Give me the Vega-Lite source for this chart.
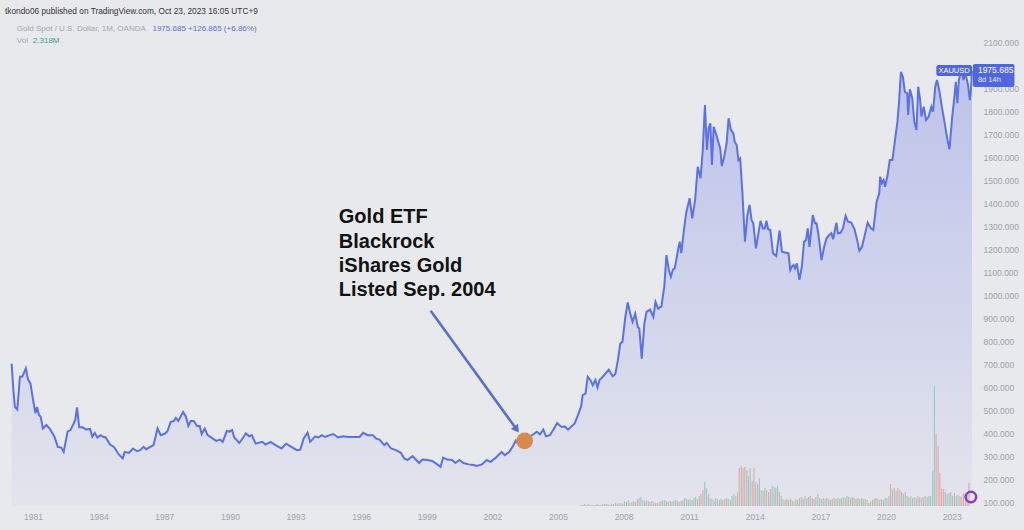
{
  "$schema": "https://vega.github.io/schema/vega-lite/v6.json",
  "width": 972,
  "height": 486,
  "autosize": {"type": "none"},
  "padding": {"left": 5, "top": 20, "right": 47, "bottom": 24},
  "background": "#e8e9ec",
  "config": {"view": {"stroke": null}, "font": "Liberation Sans"},
  "title": {
    "text": "tkondo06 published on TradingView.com, Oct 23, 2023 16:05 UTC+9",
    "anchor": "start",
    "fontSize": 8.3,
    "fontWeight": "normal",
    "color": "#333333",
    "font": "Liberation Sans",
    "offset": 5
  },
  "datasets": {
    "gold": [
      {"year":1980.02,"price":703},{"year":1980.10,"price":588},{"year":1980.17,"price":515},{"year":1980.28,"price":503},{"year":1980.40,"price":646},{"year":1980.50,"price":646},{"year":1980.58,"price":661},{"year":1980.67,"price":683},{"year":1980.77,"price":635},{"year":1980.88,"price":617},
      {"year":1981.00,"price":545},{"year":1981.11,"price":487},{"year":1981.18,"price":515},{"year":1981.27,"price":480},{"year":1981.35,"price":472},{"year":1981.45,"price":421},{"year":1981.61,"price":436},{"year":1981.76,"price":421},{"year":1981.98,"price":385},
      {"year":1982.13,"price":341},{"year":1982.29,"price":338},{"year":1982.40,"price":319},{"year":1982.58,"price":407},{"year":1982.71,"price":414},{"year":1982.86,"price":443},{"year":1982.93,"price":458},
      {"year":1983.01,"price":513},{"year":1983.11,"price":426},{"year":1983.26,"price":426},{"year":1983.42,"price":417},{"year":1983.61,"price":419},{"year":1983.71,"price":385},{"year":1983.82,"price":402},{"year":1983.94,"price":382},
      {"year":1984.09,"price":392},{"year":1984.21,"price":385},{"year":1984.32,"price":382},{"year":1984.52,"price":351},{"year":1984.70,"price":341},{"year":1984.92,"price":308},
      {"year":1985.10,"price":291},{"year":1985.19,"price":319},{"year":1985.38,"price":315},{"year":1985.57,"price":334},{"year":1985.75,"price":322},{"year":1985.90,"price":327},
      {"year":1986.05,"price":341},{"year":1986.18,"price":331},{"year":1986.36,"price":341},{"year":1986.51,"price":349},{"year":1986.69,"price":421},{"year":1986.84,"price":392},
      {"year":1987.04,"price":399},{"year":1987.15,"price":410},{"year":1987.29,"price":449},{"year":1987.44,"price":454},{"year":1987.53,"price":467},{"year":1987.64,"price":454},{"year":1987.86,"price":493},{"year":1987.99,"price":472},
      {"year":1988.10,"price":432},{"year":1988.21,"price":454},{"year":1988.35,"price":454},{"year":1988.50,"price":432},{"year":1988.62,"price":432},{"year":1988.71,"price":397},{"year":1988.85,"price":421},{"year":1988.98,"price":392},
      {"year":1989.14,"price":382},{"year":1989.37,"price":367},{"year":1989.55,"price":373},{"year":1989.67,"price":363},{"year":1989.86,"price":410},{"year":1989.98,"price":407},
      {"year":1990.10,"price":414},{"year":1990.20,"price":382},{"year":1990.43,"price":358},{"year":1990.61,"price":382},{"year":1990.73,"price":400},{"year":1990.88,"price":387},
      {"year":1991.00,"price":392},{"year":1991.18,"price":355},{"year":1991.48,"price":363},{"year":1991.63,"price":351},{"year":1991.86,"price":363},
      {"year":1992.09,"price":349},{"year":1992.36,"price":334},{"year":1992.57,"price":355},{"year":1992.81,"price":341},
      {"year":1993.07,"price":327},{"year":1993.22,"price":329},{"year":1993.37,"price":377},{"year":1993.55,"price":403},{"year":1993.67,"price":363},{"year":1993.90,"price":387},
      {"year":1994.05,"price":382},{"year":1994.20,"price":392},{"year":1994.35,"price":384},{"year":1994.57,"price":392},{"year":1994.73,"price":397},{"year":1994.95,"price":382},
      {"year":1995.18,"price":387},{"year":1995.41,"price":384},{"year":1995.71,"price":384},{"year":1995.93,"price":384},
      {"year":1996.09,"price":402},{"year":1996.31,"price":392},{"year":1996.54,"price":392},{"year":1996.69,"price":377},{"year":1996.84,"price":373},
      {"year":1997.06,"price":349},{"year":1997.17,"price":358},{"year":1997.37,"price":334},{"year":1997.59,"price":327},{"year":1997.82,"price":315},{"year":1997.97,"price":291},
      {"year":1998.12,"price":284},{"year":1998.35,"price":301},{"year":1998.50,"price":286},{"year":1998.65,"price":271},{"year":1998.80,"price":286},
      {"year":1999.03,"price":284},{"year":1999.25,"price":280},{"year":1999.48,"price":265},{"year":1999.63,"price":254},{"year":1999.75,"price":294},{"year":1999.93,"price":286},
      {"year":2000.16,"price":284},{"year":2000.31,"price":271},{"year":2000.50,"price":284},{"year":2000.68,"price":271},{"year":2000.91,"price":265},
      {"year":2001.14,"price":262},{"year":2001.29,"price":258},{"year":2001.52,"price":265},{"year":2001.74,"price":284},{"year":2001.92,"price":276},
      {"year":2002.12,"price":291},{"year":2002.42,"price":319},{"year":2002.57,"price":305},{"year":2002.77,"price":319},{"year":2002.92,"price":341},
      {"year":2003.07,"price":368},{"year":2003.20,"price":352},{"year":2003.35,"price":350},{"year":2003.50,"price":368},{"year":2003.70,"price":385},{"year":2003.88,"price":396},
      {"year":2004.03,"price":407},{"year":2004.18,"price":396},{"year":2004.33,"price":416},{"year":2004.45,"price":387},{"year":2004.63,"price":392},{"year":2004.78,"price":414},{"year":2004.96,"price":445},
      {"year":2005.16,"price":428},{"year":2005.31,"price":430},{"year":2005.46,"price":416},{"year":2005.61,"price":430},{"year":2005.76,"price":442},{"year":2005.91,"price":478},
      {"year":2006.06,"price":518},{"year":2006.13,"price":566},{"year":2006.26,"price":573},{"year":2006.36,"price":646},{"year":2006.48,"price":632},{"year":2006.59,"price":609},{"year":2006.71,"price":632},{"year":2006.81,"price":599},{"year":2006.90,"price":632},
      {"year":2007.05,"price":646},{"year":2007.17,"price":660},{"year":2007.32,"price":677},{"year":2007.50,"price":648},{"year":2007.62,"price":657},{"year":2007.74,"price":718},{"year":2007.85,"price":790},{"year":2007.95,"price":798},
      {"year":2008.08,"price":906},{"year":2008.19,"price":969},{"year":2008.32,"price":914},{"year":2008.41,"price":885},{"year":2008.53,"price":920},{"year":2008.65,"price":862},{"year":2008.72,"price":855},{"year":2008.83,"price":725},{"year":2008.95,"price":877},
      {"year":2009.05,"price":928},{"year":2009.21,"price":938},{"year":2009.36,"price":906},{"year":2009.46,"price":971},{"year":2009.58,"price":942},{"year":2009.73,"price":952},{"year":2009.86,"price":1037},{"year":2009.96,"price":1175},
      {"year":2010.07,"price":1110},{"year":2010.16,"price":1081},{"year":2010.26,"price":1113},{"year":2010.34,"price":1117},{"year":2010.49,"price":1197},{"year":2010.57,"price":1233},{"year":2010.64,"price":1183},{"year":2010.76,"price":1284},{"year":2010.86,"price":1357},
      {"year":2011.02,"price":1422},{"year":2011.14,"price":1335},{"year":2011.27,"price":1414},{"year":2011.39,"price":1559},{"year":2011.52,"price":1509},{"year":2011.62,"price":1632},{"year":2011.72,"price":1827},{"year":2011.81,"price":1632},{"year":2011.89,"price":1726},{"year":2011.97,"price":1748},
      {"year":2012.04,"price":1567},{"year":2012.12,"price":1733},{"year":2012.22,"price":1704},{"year":2012.33,"price":1668},{"year":2012.42,"price":1639},{"year":2012.49,"price":1562},{"year":2012.60,"price":1603},{"year":2012.71,"price":1661},{"year":2012.80,"price":1770},{"year":2012.90,"price":1722},
      {"year":2013.02,"price":1704},{"year":2013.08,"price":1668},{"year":2013.17,"price":1654},{"year":2013.25,"price":1588},{"year":2013.33,"price":1596},{"year":2013.43,"price":1450},{"year":2013.55,"price":1233},{"year":2013.66,"price":1349},{"year":2013.76,"price":1393},{"year":2013.85,"price":1328},{"year":2013.93,"price":1313},
      {"year":2014.05,"price":1204},{"year":2014.14,"price":1255},{"year":2014.26,"price":1324},{"year":2014.37,"price":1291},{"year":2014.46,"price":1291},{"year":2014.53,"price":1324},{"year":2014.61,"price":1287},{"year":2014.71,"price":1284},{"year":2014.83,"price":1183},{"year":2014.98,"price":1171},
      {"year":2015.13,"price":1281},{"year":2015.24,"price":1190},{"year":2015.39,"price":1186},{"year":2015.54,"price":1183},{"year":2015.62,"price":1110},{"year":2015.69,"price":1124},{"year":2015.77,"price":1132},{"year":2015.84,"price":1117},{"year":2015.92,"price":1139},
      {"year":2016.04,"price":1067},{"year":2016.15,"price":1124},{"year":2016.25,"price":1233},{"year":2016.34,"price":1240},{"year":2016.42,"price":1291},{"year":2016.50,"price":1211},{"year":2016.65,"price":1349},{"year":2016.75,"price":1313},{"year":2016.82,"price":1313},{"year":2016.90,"price":1270},
      {"year":2017.05,"price":1153},{"year":2017.17,"price":1211},{"year":2017.28,"price":1248},{"year":2017.40,"price":1262},{"year":2017.50,"price":1270},{"year":2017.58,"price":1244},{"year":2017.73,"price":1316},{"year":2017.80,"price":1270},{"year":2017.92,"price":1272},
      {"year":2018.03,"price":1291},{"year":2018.15,"price":1345},{"year":2018.26,"price":1320},{"year":2018.41,"price":1316},{"year":2018.56,"price":1287},{"year":2018.68,"price":1240},{"year":2018.78,"price":1194},{"year":2018.90,"price":1211},
      {"year":2019.01,"price":1255},{"year":2019.16,"price":1316},{"year":2019.31,"price":1291},{"year":2019.42,"price":1284},{"year":2019.57,"price":1407},{"year":2019.69,"price":1443},{"year":2019.73,"price":1516},{"year":2019.81,"price":1487},{"year":2019.89,"price":1501},{"year":2019.96,"price":1472},
      {"year":2020.07,"price":1523},{"year":2020.17,"price":1588},{"year":2020.29,"price":1588},{"year":2020.41,"price":1675},{"year":2020.52,"price":1755},{"year":2020.59,"price":1835},{"year":2020.68,"price":1972},{"year":2020.77,"price":1950},{"year":2020.86,"price":1885},{"year":2020.97,"price":1878},
      {"year":2021.01,"price":1784},{"year":2021.09,"price":1896},{"year":2021.20,"price":1857},{"year":2021.29,"price":1755},{"year":2021.39,"price":1719},{"year":2021.47,"price":1907},{"year":2021.56,"price":1849},{"year":2021.62,"price":1777},{"year":2021.72,"price":1820},{"year":2021.83,"price":1762},{"year":2021.95,"price":1777},
      {"year":2022.07,"price":1820},{"year":2022.15,"price":1798},{"year":2022.25,"price":1907},{"year":2022.33,"price":1936},{"year":2022.43,"price":1893},{"year":2022.55,"price":1820},{"year":2022.67,"price":1755},{"year":2022.78,"price":1690},{"year":2022.90,"price":1635},
      {"year":2023.01,"price":1762},{"year":2023.11,"price":1849},{"year":2023.19,"price":1928},{"year":2023.26,"price":1835},{"year":2023.33,"price":1936},{"year":2023.44,"price":1980},{"year":2023.54,"price":1936},{"year":2023.63,"price":1965},{"year":2023.75,"price":1914},{"year":2023.83,"price":1849},{"year":2023.88,"price":1893},{"year":2023.93,"price":1975}
    ],
    "vol": [
      {"year":2006.04,"vol":0.1,"dir":"up"},{"year":2006.13,"vol":0.1,"dir":"down"},{"year":2006.21,"vol":0.2,"dir":"up"},{"year":2006.29,"vol":0.1,"dir":"up"},{"year":2006.38,"vol":0.2,"dir":"down"},{"year":2006.46,"vol":0.1,"dir":"up"},{"year":2006.54,"vol":0.1,"dir":"down"},{"year":2006.63,"vol":0.1,"dir":"down"},{"year":2006.71,"vol":0.1,"dir":"up"},{"year":2006.79,"vol":0.2,"dir":"up"},{"year":2006.88,"vol":0.1,"dir":"down"},{"year":2006.96,"vol":0.1,"dir":"up"},
      {"year":2007.04,"vol":0.2,"dir":"up"},{"year":2007.13,"vol":0.2,"dir":"down"},{"year":2007.21,"vol":0.2,"dir":"up"},{"year":2007.29,"vol":0.2,"dir":"up"},{"year":2007.38,"vol":0.1,"dir":"down"},{"year":2007.46,"vol":0.2,"dir":"up"},{"year":2007.54,"vol":0.2,"dir":"down"},{"year":2007.63,"vol":0.3,"dir":"down"},{"year":2007.71,"vol":0.2,"dir":"up"},{"year":2007.79,"vol":0.3,"dir":"up"},{"year":2007.88,"vol":0.3,"dir":"down"},{"year":2007.96,"vol":0.2,"dir":"up"},
      {"year":2008.04,"vol":0.5,"dir":"up"},{"year":2008.13,"vol":0.4,"dir":"down"},{"year":2008.21,"vol":0.6,"dir":"up"},{"year":2008.29,"vol":0.3,"dir":"up"},{"year":2008.38,"vol":0.4,"dir":"down"},{"year":2008.46,"vol":0.5,"dir":"up"},{"year":2008.54,"vol":0.4,"dir":"down"},{"year":2008.63,"vol":0.7,"dir":"down"},{"year":2008.71,"vol":0.8,"dir":"up"},{"year":2008.79,"vol":0.9,"dir":"up"},{"year":2008.88,"vol":0.6,"dir":"down"},{"year":2008.96,"vol":0.5,"dir":"up"},
      {"year":2009.04,"vol":0.6,"dir":"up"},{"year":2009.13,"vol":0.5,"dir":"down"},{"year":2009.21,"vol":0.4,"dir":"up"},{"year":2009.29,"vol":0.5,"dir":"up"},{"year":2009.38,"vol":0.4,"dir":"down"},{"year":2009.46,"vol":0.3,"dir":"up"},{"year":2009.54,"vol":0.3,"dir":"down"},{"year":2009.63,"vol":0.4,"dir":"down"},{"year":2009.71,"vol":0.5,"dir":"up"},{"year":2009.79,"vol":0.6,"dir":"up"},{"year":2009.88,"vol":0.6,"dir":"down"},{"year":2009.96,"vol":0.5,"dir":"up"},
      {"year":2010.04,"vol":0.4,"dir":"up"},{"year":2010.13,"vol":0.5,"dir":"down"},{"year":2010.21,"vol":0.4,"dir":"up"},{"year":2010.29,"vol":0.5,"dir":"up"},{"year":2010.38,"vol":0.6,"dir":"down"},{"year":2010.46,"vol":0.5,"dir":"up"},{"year":2010.54,"vol":0.4,"dir":"down"},{"year":2010.63,"vol":0.5,"dir":"down"},{"year":2010.71,"vol":0.6,"dir":"up"},{"year":2010.79,"vol":0.8,"dir":"up"},{"year":2010.88,"vol":0.7,"dir":"down"},{"year":2010.96,"vol":0.6,"dir":"up"},
      {"year":2011.04,"vol":0.7,"dir":"up"},{"year":2011.13,"vol":0.6,"dir":"down"},{"year":2011.21,"vol":0.8,"dir":"up"},{"year":2011.29,"vol":0.9,"dir":"up"},{"year":2011.38,"vol":0.7,"dir":"down"},{"year":2011.46,"vol":1.0,"dir":"up"},{"year":2011.54,"vol":1.2,"dir":"down"},{"year":2011.63,"vol":1.6,"dir":"down"},{"year":2011.71,"vol":2.4,"dir":"up"},{"year":2011.79,"vol":1.8,"dir":"up"},{"year":2011.88,"vol":1.2,"dir":"down"},{"year":2011.96,"vol":0.8,"dir":"up"},
      {"year":2012.04,"vol":0.7,"dir":"up"},{"year":2012.13,"vol":0.6,"dir":"down"},{"year":2012.21,"vol":0.8,"dir":"up"},{"year":2012.29,"vol":0.7,"dir":"up"},{"year":2012.38,"vol":0.6,"dir":"down"},{"year":2012.46,"vol":0.7,"dir":"up"},{"year":2012.54,"vol":0.6,"dir":"down"},{"year":2012.63,"vol":0.7,"dir":"down"},{"year":2012.71,"vol":0.8,"dir":"up"},{"year":2012.79,"vol":0.7,"dir":"up"},{"year":2012.88,"vol":0.6,"dir":"down"},{"year":2012.96,"vol":1.0,"dir":"up"},
      {"year":2013.04,"vol":1.2,"dir":"up"},{"year":2013.13,"vol":1.0,"dir":"down"},{"year":2013.21,"vol":1.4,"dir":"up"},{"year":2013.29,"vol":3.8,"dir":"down"},{"year":2013.38,"vol":4.0,"dir":"down"},{"year":2013.46,"vol":3.8,"dir":"up"},{"year":2013.54,"vol":3.9,"dir":"down"},{"year":2013.63,"vol":3.6,"dir":"down"},{"year":2013.71,"vol":3.0,"dir":"up"},{"year":2013.79,"vol":3.8,"dir":"up"},{"year":2013.88,"vol":2.5,"dir":"down"},{"year":2013.96,"vol":3.8,"dir":"down"},
      {"year":2014.04,"vol":2.4,"dir":"up"},{"year":2014.13,"vol":2.2,"dir":"down"},{"year":2014.21,"vol":2.8,"dir":"up"},{"year":2014.29,"vol":1.6,"dir":"up"},{"year":2014.38,"vol":1.5,"dir":"down"},{"year":2014.46,"vol":1.8,"dir":"up"},{"year":2014.54,"vol":1.6,"dir":"down"},{"year":2014.63,"vol":1.4,"dir":"down"},{"year":2014.71,"vol":1.7,"dir":"up"},{"year":2014.79,"vol":2.0,"dir":"up"},{"year":2014.88,"vol":1.9,"dir":"down"},{"year":2014.96,"vol":1.8,"dir":"up"},
      {"year":2015.04,"vol":2.0,"dir":"up"},{"year":2015.13,"vol":1.4,"dir":"down"},{"year":2015.21,"vol":1.0,"dir":"up"},{"year":2015.29,"vol":0.7,"dir":"up"},{"year":2015.38,"vol":0.6,"dir":"down"},{"year":2015.46,"vol":0.7,"dir":"up"},{"year":2015.54,"vol":0.6,"dir":"down"},{"year":2015.63,"vol":0.7,"dir":"down"},{"year":2015.71,"vol":0.6,"dir":"up"},{"year":2015.79,"vol":0.5,"dir":"up"},{"year":2015.88,"vol":0.7,"dir":"down"},{"year":2015.96,"vol":0.6,"dir":"up"},
      {"year":2016.04,"vol":0.8,"dir":"up"},{"year":2016.13,"vol":0.9,"dir":"down"},{"year":2016.21,"vol":0.7,"dir":"up"},{"year":2016.29,"vol":1.0,"dir":"up"},{"year":2016.38,"vol":0.8,"dir":"down"},{"year":2016.46,"vol":0.9,"dir":"up"},{"year":2016.54,"vol":1.0,"dir":"down"},{"year":2016.63,"vol":0.8,"dir":"down"},{"year":2016.71,"vol":0.7,"dir":"up"},{"year":2016.79,"vol":0.9,"dir":"up"},{"year":2016.88,"vol":1.2,"dir":"down"},{"year":2016.96,"vol":0.8,"dir":"up"},
      {"year":2017.04,"vol":0.7,"dir":"up"},{"year":2017.13,"vol":0.8,"dir":"down"},{"year":2017.21,"vol":0.7,"dir":"up"},{"year":2017.29,"vol":0.8,"dir":"up"},{"year":2017.38,"vol":0.7,"dir":"down"},{"year":2017.46,"vol":0.6,"dir":"up"},{"year":2017.54,"vol":0.7,"dir":"down"},{"year":2017.63,"vol":0.8,"dir":"down"},{"year":2017.71,"vol":0.7,"dir":"up"},{"year":2017.79,"vol":0.8,"dir":"up"},{"year":2017.88,"vol":0.7,"dir":"down"},{"year":2017.96,"vol":0.8,"dir":"up"},
      {"year":2018.04,"vol":0.9,"dir":"up"},{"year":2018.13,"vol":0.8,"dir":"down"},{"year":2018.21,"vol":1.0,"dir":"up"},{"year":2018.29,"vol":0.9,"dir":"up"},{"year":2018.38,"vol":0.8,"dir":"down"},{"year":2018.46,"vol":0.9,"dir":"up"},{"year":2018.54,"vol":0.8,"dir":"down"},{"year":2018.63,"vol":0.7,"dir":"down"},{"year":2018.71,"vol":0.8,"dir":"up"},{"year":2018.79,"vol":0.7,"dir":"up"},{"year":2018.88,"vol":0.8,"dir":"down"},{"year":2018.96,"vol":0.7,"dir":"up"},
      {"year":2019.04,"vol":0.7,"dir":"up"},{"year":2019.13,"vol":0.6,"dir":"down"},{"year":2019.21,"vol":0.3,"dir":"up"},{"year":2019.29,"vol":0.4,"dir":"up"},{"year":2019.38,"vol":0.6,"dir":"down"},{"year":2019.46,"vol":0.7,"dir":"up"},{"year":2019.54,"vol":0.8,"dir":"down"},{"year":2019.63,"vol":0.7,"dir":"down"},{"year":2019.71,"vol":0.6,"dir":"up"},{"year":2019.79,"vol":0.7,"dir":"up"},{"year":2019.88,"vol":0.6,"dir":"down"},{"year":2019.96,"vol":0.8,"dir":"up"},
      {"year":2020.04,"vol":0.8,"dir":"up"},{"year":2020.13,"vol":1.0,"dir":"down"},{"year":2020.21,"vol":2.2,"dir":"down"},{"year":2020.29,"vol":1.6,"dir":"up"},{"year":2020.38,"vol":1.8,"dir":"down"},{"year":2020.46,"vol":1.5,"dir":"up"},{"year":2020.54,"vol":1.8,"dir":"down"},{"year":2020.63,"vol":1.6,"dir":"down"},{"year":2020.71,"vol":1.4,"dir":"up"},{"year":2020.79,"vol":1.2,"dir":"up"},{"year":2020.88,"vol":1.4,"dir":"down"},{"year":2020.96,"vol":1.0,"dir":"up"},
      {"year":2021.04,"vol":0.9,"dir":"up"},{"year":2021.13,"vol":1.0,"dir":"down"},{"year":2021.21,"vol":0.8,"dir":"up"},{"year":2021.29,"vol":0.9,"dir":"up"},{"year":2021.38,"vol":0.8,"dir":"down"},{"year":2021.46,"vol":1.0,"dir":"up"},{"year":2021.54,"vol":0.9,"dir":"down"},{"year":2021.63,"vol":0.8,"dir":"down"},{"year":2021.71,"vol":0.9,"dir":"up"},{"year":2021.79,"vol":1.0,"dir":"up"},{"year":2021.88,"vol":0.9,"dir":"down"},{"year":2021.96,"vol":1.0,"dir":"up"},
      {"year":2022.04,"vol":1.0,"dir":"up"},{"year":2022.13,"vol":3.5,"dir":"up"},{"year":2022.21,"vol":12.0,"dir":"up"},{"year":2022.29,"vol":7.2,"dir":"down"},{"year":2022.38,"vol":6.0,"dir":"down"},{"year":2022.46,"vol":3.3,"dir":"down"},{"year":2022.54,"vol":1.7,"dir":"down"},{"year":2022.63,"vol":1.7,"dir":"down"},{"year":2022.71,"vol":1.4,"dir":"up"},{"year":2022.79,"vol":1.2,"dir":"up"},{"year":2022.88,"vol":1.3,"dir":"down"},{"year":2022.96,"vol":1.4,"dir":"up"},
      {"year":2023.04,"vol":1.0,"dir":"up"},{"year":2023.13,"vol":1.3,"dir":"down"},{"year":2023.21,"vol":1.0,"dir":"up"},{"year":2023.29,"vol":1.1,"dir":"up"},{"year":2023.38,"vol":1.0,"dir":"down"},{"year":2023.46,"vol":0.9,"dir":"up"},{"year":2023.54,"vol":1.3,"dir":"down"},{"year":2023.63,"vol":1.2,"dir":"down"},{"year":2023.71,"vol":1.3,"dir":"up"},{"year":2023.79,"vol":2.318,"dir":"down"}
    ]
  },
  "encoding": {
    "x": {
      "field": "year",
      "type": "quantitative",
      "scale": {"domain": [1979.946, 2023.93], "nice": false, "zero": false},
      "axis": {
        "values": [1981, 1984, 1987, 1990, 1993, 1996, 1999, 2002, 2005, 2008, 2011, 2014, 2017, 2020, 2023],
        "format": "d",
        "labelColor": "#9fa1a8",
        "labelFontSize": 8.5,
        "labelFont": "Liberation Sans",
        "labelPadding": 6,
        "labelFlush": false,
        "ticks": false,
        "domain": false,
        "grid": false,
        "title": null
      }
    }
  },
  "layer": [
    {
      "data": {"name": "gold"},
      "mark": {
        "type": "area",
        "color": {
          "gradient": "linear", "x1": 0, "y1": 0, "x2": 0, "y2": 1,
          "stops": [{"offset": 0, "color": "#bdc3ea"}, {"offset": 1, "color": "#e3e4ec"}]
        }
      },
      "encoding": {
        "y": {
          "field": "price",
          "type": "quantitative",
          "scale": {"domain": [84, 2197], "nice": false, "zero": false},
          "axis": {
            "orient": "right",
            "values": [100, 200, 300, 400, 500, 600, 700, 800, 900, 1000, 1100, 1200, 1300, 1400, 1500, 1600, 1700, 1800, 1900, 2100],
            "format": ".3f",
            "labelColor": "#9fa1a8",
            "labelFontSize": 8.5,
            "labelFont": "Liberation Sans",
            "labelPadding": 6,
            "ticks": false,
            "domain": false,
            "grid": false,
            "title": null
          }
        },
        "y2": {"datum": 84}
      }
    },
    {
      "data": {"name": "vol"},
      "mark": {"type": "bar", "width": 1.2},
      "encoding": {
        "y": {"field": "vol", "type": "quantitative", "scale": {"domain": [0, 48.6], "nice": false}, "axis": null},
        "color": {
          "field": "dir",
          "type": "nominal",
          "scale": {"domain": ["up", "down"], "range": ["#98cdc6", "#e6a9a9"]},
          "legend": null
        }
      }
    },
    {
      "encoding": {
        "y": {
          "field": "price",
          "type": "quantitative",
          "scale": {"domain": [84, 2197], "nice": false, "zero": false},
          "axis": null
        }
      },
      "layer": [
        {
          "data": {"values": [{"price": 1975.685}]},
          "mark": {"type": "rule", "color": "#b9bee6", "strokeWidth": 1},
          "encoding": {"x": {"datum": 1979.946}, "x2": {"datum": 2023.93}}
        },
        {
          "data": {"name": "gold"},
          "mark": {"type": "line", "color": "#5b72e6", "strokeWidth": 2},
          "encoding": {}
        },
        {
          "data": {"values": [{"year": 1999.18, "price": 933, "year2": 2003.11, "price2": 417}]},
          "mark": {"type": "rule", "color": "#5a6fc8", "strokeWidth": 2.5},
          "encoding": {"x2": {"field": "year2"}, "y2": {"field": "price2"}}
        },
        {
          "data": {"values": [{"year": 2003.11, "price": 417}]},
          "mark": {"type": "point", "shape": "triangle-up", "angle": 144, "size": 80, "filled": true, "color": "#5a6fc8", "opacity": 1}
        },
        {
          "data": {"values": [{"year": 2003.475, "price": 367}]},
          "mark": {"type": "point", "shape": "circle", "size": 280, "filled": true, "color": "#d8894b", "opacity": 1}
        },
        {
          "data": {"values": [
            {"year": 1994.98, "price": 1342, "label": "Gold ETF"},
            {"year": 1994.98, "price": 1233, "label": "Blackrock"},
            {"year": 1994.98, "price": 1127, "label": "iShares Gold"},
            {"year": 1994.98, "price": 1023, "label": "Listed Sep. 2004"}
          ]},
          "mark": {"type": "text", "align": "left", "baseline": "middle", "fontSize": 20, "fontWeight": "bold", "font": "Liberation Sans", "color": "#111111"},
          "encoding": {"text": {"field": "label"}}
        },
        {
          "data": {"values": [
            {"year": 1980.26, "price": 2156, "label": "Gold Spot / U.S. Dollar, 1M, OANDA"},
            {"year": 1980.26, "price": 2105, "label": "Vol"}
          ]},
          "mark": {"type": "text", "align": "left", "baseline": "middle", "fontSize": 8, "font": "Liberation Sans", "color": "#a3a5ac"},
          "encoding": {"text": {"field": "label"}}
        },
        {
          "data": {"values": [{"year": 1986.46, "price": 2156, "label": "1975.685  +126.865 (+6.86%)"}]},
          "mark": {"type": "text", "align": "left", "baseline": "middle", "fontSize": 8, "font": "Liberation Sans", "color": "#5b6fe0"},
          "encoding": {"text": {"field": "label"}}
        },
        {
          "data": {"values": [{"year": 1980.99, "price": 2105, "label": "2.318M"}]},
          "mark": {"type": "text", "align": "left", "baseline": "middle", "fontSize": 8, "font": "Liberation Sans", "color": "#3f9e8f"},
          "encoding": {"text": {"field": "label"}}
        },
        {
          "data": {"values": [
            {"year": 2022.30, "year2": 2023.93, "price": 1953, "price2": 2001},
            {"year": 2023.97, "year2": 2025.87, "price": 1906, "price2": 2006}
          ]},
          "mark": {"type": "rect", "color": "#5066e0", "cornerRadius": 2},
          "encoding": {"x2": {"field": "year2"}, "y2": {"field": "price2"}}
        },
        {
          "data": {"values": [{"year": 2023.11, "price": 1977, "label": "XAUUSD"}]},
          "mark": {"type": "text", "align": "center", "baseline": "middle", "fontSize": 7.5, "font": "Liberation Sans", "color": "#ffffff"},
          "encoding": {"text": {"field": "label"}}
        },
        {
          "data": {"values": [{"year": 2024.2, "price": 1978, "label": "1975.685"}]},
          "mark": {"type": "text", "align": "left", "baseline": "middle", "fontSize": 8.5, "font": "Liberation Sans", "color": "#ffffff"},
          "encoding": {"text": {"field": "label"}}
        },
        {
          "data": {"values": [{"year": 2024.2, "price": 1935, "label": "8d 14h"}]},
          "mark": {"type": "text", "align": "left", "baseline": "middle", "fontSize": 7.5, "font": "Liberation Sans", "color": "#e8ebff"},
          "encoding": {"text": {"field": "label"}}
        },
        {
          "data": {"values": [{"year": 2023.88, "price": 123}]},
          "mark": {"type": "point", "shape": "circle", "size": 110, "filled": false, "stroke": "#8e3fb8", "strokeWidth": 2.5, "opacity": 1}
        }
      ]
    }
  ],
  "resolve": {"scale": {"y": "independent"}}
}
